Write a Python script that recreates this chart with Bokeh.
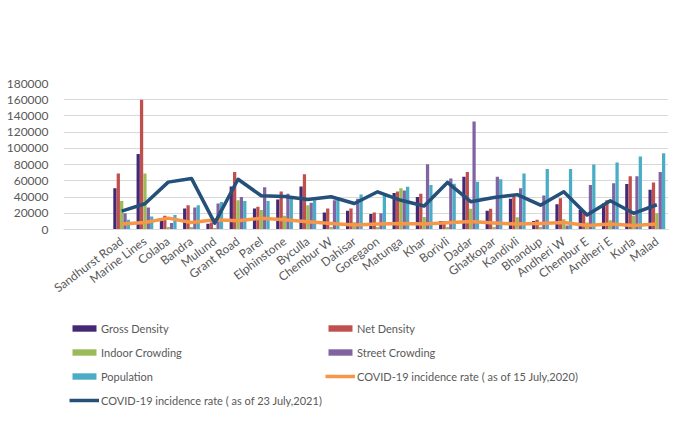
import math
import numpy as np
from bokeh.plotting import figure
from bokeh.layouts import column
from bokeh.models import (ColumnDataSource, FactorRange, Range1d, Legend, LegendItem,
                          SingleIntervalTicker, NumeralTickFormatter)
from bokeh.transform import dodge
from bokeh.embed import file_html
from bokeh.resources import INLINE

categories = ["Sandhurst Road", "Marine Lines", "Colaba", "Bandra", "Mulund", "Grant Road",
              "Parel", "Elphinstone", "Byculla", "Chembur W", "Dahisar", "Goregaon", "Matunga",
              "Khar", "Borivli", "Dadar", "Ghatkopar", "Kandivli", "Bhandup", "Andheri W",
              "Chembur E", "Andheri E", "Kurla", "Malad"]

gross_density = [51000, 93000, 14000, 26000, 7000, 53000, 26000, 37000, 53000, 21000, 23000, 19000,
                 45000, 40000, 10500, 65000, 23000, 38000, 10500, 31000, 24000, 32000, 56000, 49000]
net_density = [69000, 160000, 17000, 30000, 8500, 71000, 28000, 47000, 68000, 26000, 26000, 21000,
               47000, 44000, 10500, 71000, 25500, 43000, 12000, 38500, 21000, 36000, 65500, 58000]
indoor_crowding = [35000, 69000, 3000, 3000, 2000, 36000, 24000, 17000, 30000, 3000, 9000, 3000,
                   51000, 15500, 3000, 25500, 3000, 15000, 3000, 12700, 8600, 11500, 17000, 20000]
street_crowding = [20000, 27000, 8000, 27000, 32000, 40000, 52000, 44000, 33000, 36000, 38000, 20000,
                   48000, 80500, 63000, 133000, 65000, 51000, 42000, 5000, 55000, 57000, 65500, 71000]
population = [12000, 16000, 18000, 30000, 34000, 35000, 35000, 40000, 36000, 40000, 43000, 42000,
              52700, 55000, 56500, 59000, 62000, 69000, 74500, 74500, 80000, 82500, 90000, 94000]
covid_2020 = [6700, 8600, 14000, 8600, 12000, 10700, 14000, 12000, 9500, 7400, 5400, 6700,
              7400, 6700, 8300, 9900, 8000, 6700, 7400, 8600, 5000, 6700, 5000, 6700]
covid_2021 = [22600, 31700, 58400, 63000, 7800, 62000, 41600, 40700, 37000, 40400, 32000, 46500,
              36000, 29000, 58000, 34300, 39500, 43000, 30000, 46600, 18000, 35500, 20000, 30500]

y_ticks_step = 20000
y_max = 180000

series_labels = ["Gross Density", "Net Density", "Indoor Crowding", "Street Crowding", "Population",
                 "COVID-19 incidence rate ( as of 15 July,2020)",
                 "COVID-19 incidence rate ( as of 23 July,2021)"]

FONT = "Lato"
TXT = "#595959"
colors = ["#432874", "#C0504D", "#9BBB59", "#8064A2", "#4BACC6"]
line20_color = "#F79646"
line21_color = "#24507A"

src = ColumnDataSource(dict(cat=categories, gross=gross_density, net=net_density,
                            indoor=indoor_crowding, street=street_crowding, pop=population,
                            c20=covid_2020, c21=covid_2021))

W = 669
blank_slots = [" ", "  "]
p = figure(width=W, height=307, output_backend="svg", toolbar_location=None,
           x_range=FactorRange(factors=blank_slots + categories, range_padding=0),
           y_range=Range1d(0, y_max),
           min_border_left=63, min_border_right=1, min_border_top=83, min_border_bottom=78)
p.outline_line_color = None

fields = ["gross", "net", "indoor", "street", "pop"]
offsets = [-0.29, -0.145, 0.0, 0.145, 0.29]
for f, c, o in zip(fields, colors, offsets):
    p.vbar(x=dodge("cat", o, range=p.x_range), top=f, width=0.14, source=src,
           fill_color=c, line_color=None)

p.line(x="cat", y="c20", source=src, line_color=line20_color, line_width=3.5, line_join="round")
p.line(x="cat", y="c21", source=src, line_color=line21_color, line_width=3.5, line_join="round")

p.xgrid.grid_line_color = None
p.ygrid.grid_line_color = "#d9d9d9"
p.ygrid.grid_line_width = 1

p.yaxis.ticker = SingleIntervalTicker(interval=y_ticks_step)
p.yaxis.formatter = NumeralTickFormatter(format="0")
p.yaxis.axis_line_color = None
p.yaxis.major_tick_line_color = None
p.yaxis.minor_tick_line_color = None
p.yaxis.major_label_text_font = FONT
p.yaxis.major_label_text_font_size = "12px"
p.yaxis.major_label_text_color = TXT
p.yaxis.major_label_standoff = 9

p.xaxis.axis_line_color = "#d9d9d9"
p.xaxis.major_tick_line_color = None
p.xaxis.minor_tick_line_color = None
p.xaxis.major_label_orientation = math.radians(37)
p.xaxis.major_label_text_font = FONT
p.xaxis.major_label_text_font_size = "12px"
p.xaxis.major_label_text_color = TXT
p.xaxis.major_label_standoff = 4

# legend panel: a second figure below the chart holding only the legend swatches
lg = figure(width=W, height=101, output_backend="svg", toolbar_location=None,
            x_axis_location=None, y_axis_location=None, min_border=0,
            x_range=Range1d(0, 1), y_range=Range1d(0, 1))
lg.outline_line_color = None
lg.xgrid.grid_line_color = None
lg.ygrid.grid_line_color = None

nan = np.array([np.nan])
sw = [lg.vbar(x=nan, top=nan, width=0.1, fill_color=c, line_color=None) for c in colors]
sl20 = lg.line(x=nan, y=nan, line_color=line20_color, line_width=3.5)
sl21 = lg.line(x=nan, y=nan, line_color=line21_color, line_width=3.5)

common = dict(glyph_width=30, glyph_height=8, label_height=16, spacing=8, padding=0, margin=0,
              label_standoff=2, label_text_font=FONT, label_text_font_size="11px",
              label_text_color=TXT, border_line_color=None, background_fill_alpha=0,
              orientation="vertical")
leg1 = Legend(items=[LegendItem(label=series_labels[0], renderers=[sw[0]]),
                     LegendItem(label=series_labels[2], renderers=[sw[2]]),
                     LegendItem(label=series_labels[4], renderers=[sw[4]]),
                     LegendItem(label=series_labels[6], renderers=[sl21])],
              location=(6, 0), **common)
leg2 = Legend(items=[LegendItem(label=series_labels[1], renderers=[sw[1]]),
                     LegendItem(label=series_labels[3], renderers=[sw[3]]),
                     LegendItem(label=series_labels[5], renderers=[sl20])],
              location=(262, 24), **common)
lg.add_layout(leg1)
lg.add_layout(leg2)

layout = column(p, lg, spacing=0)
open("out.html", "w").write(file_html(layout, INLINE))
